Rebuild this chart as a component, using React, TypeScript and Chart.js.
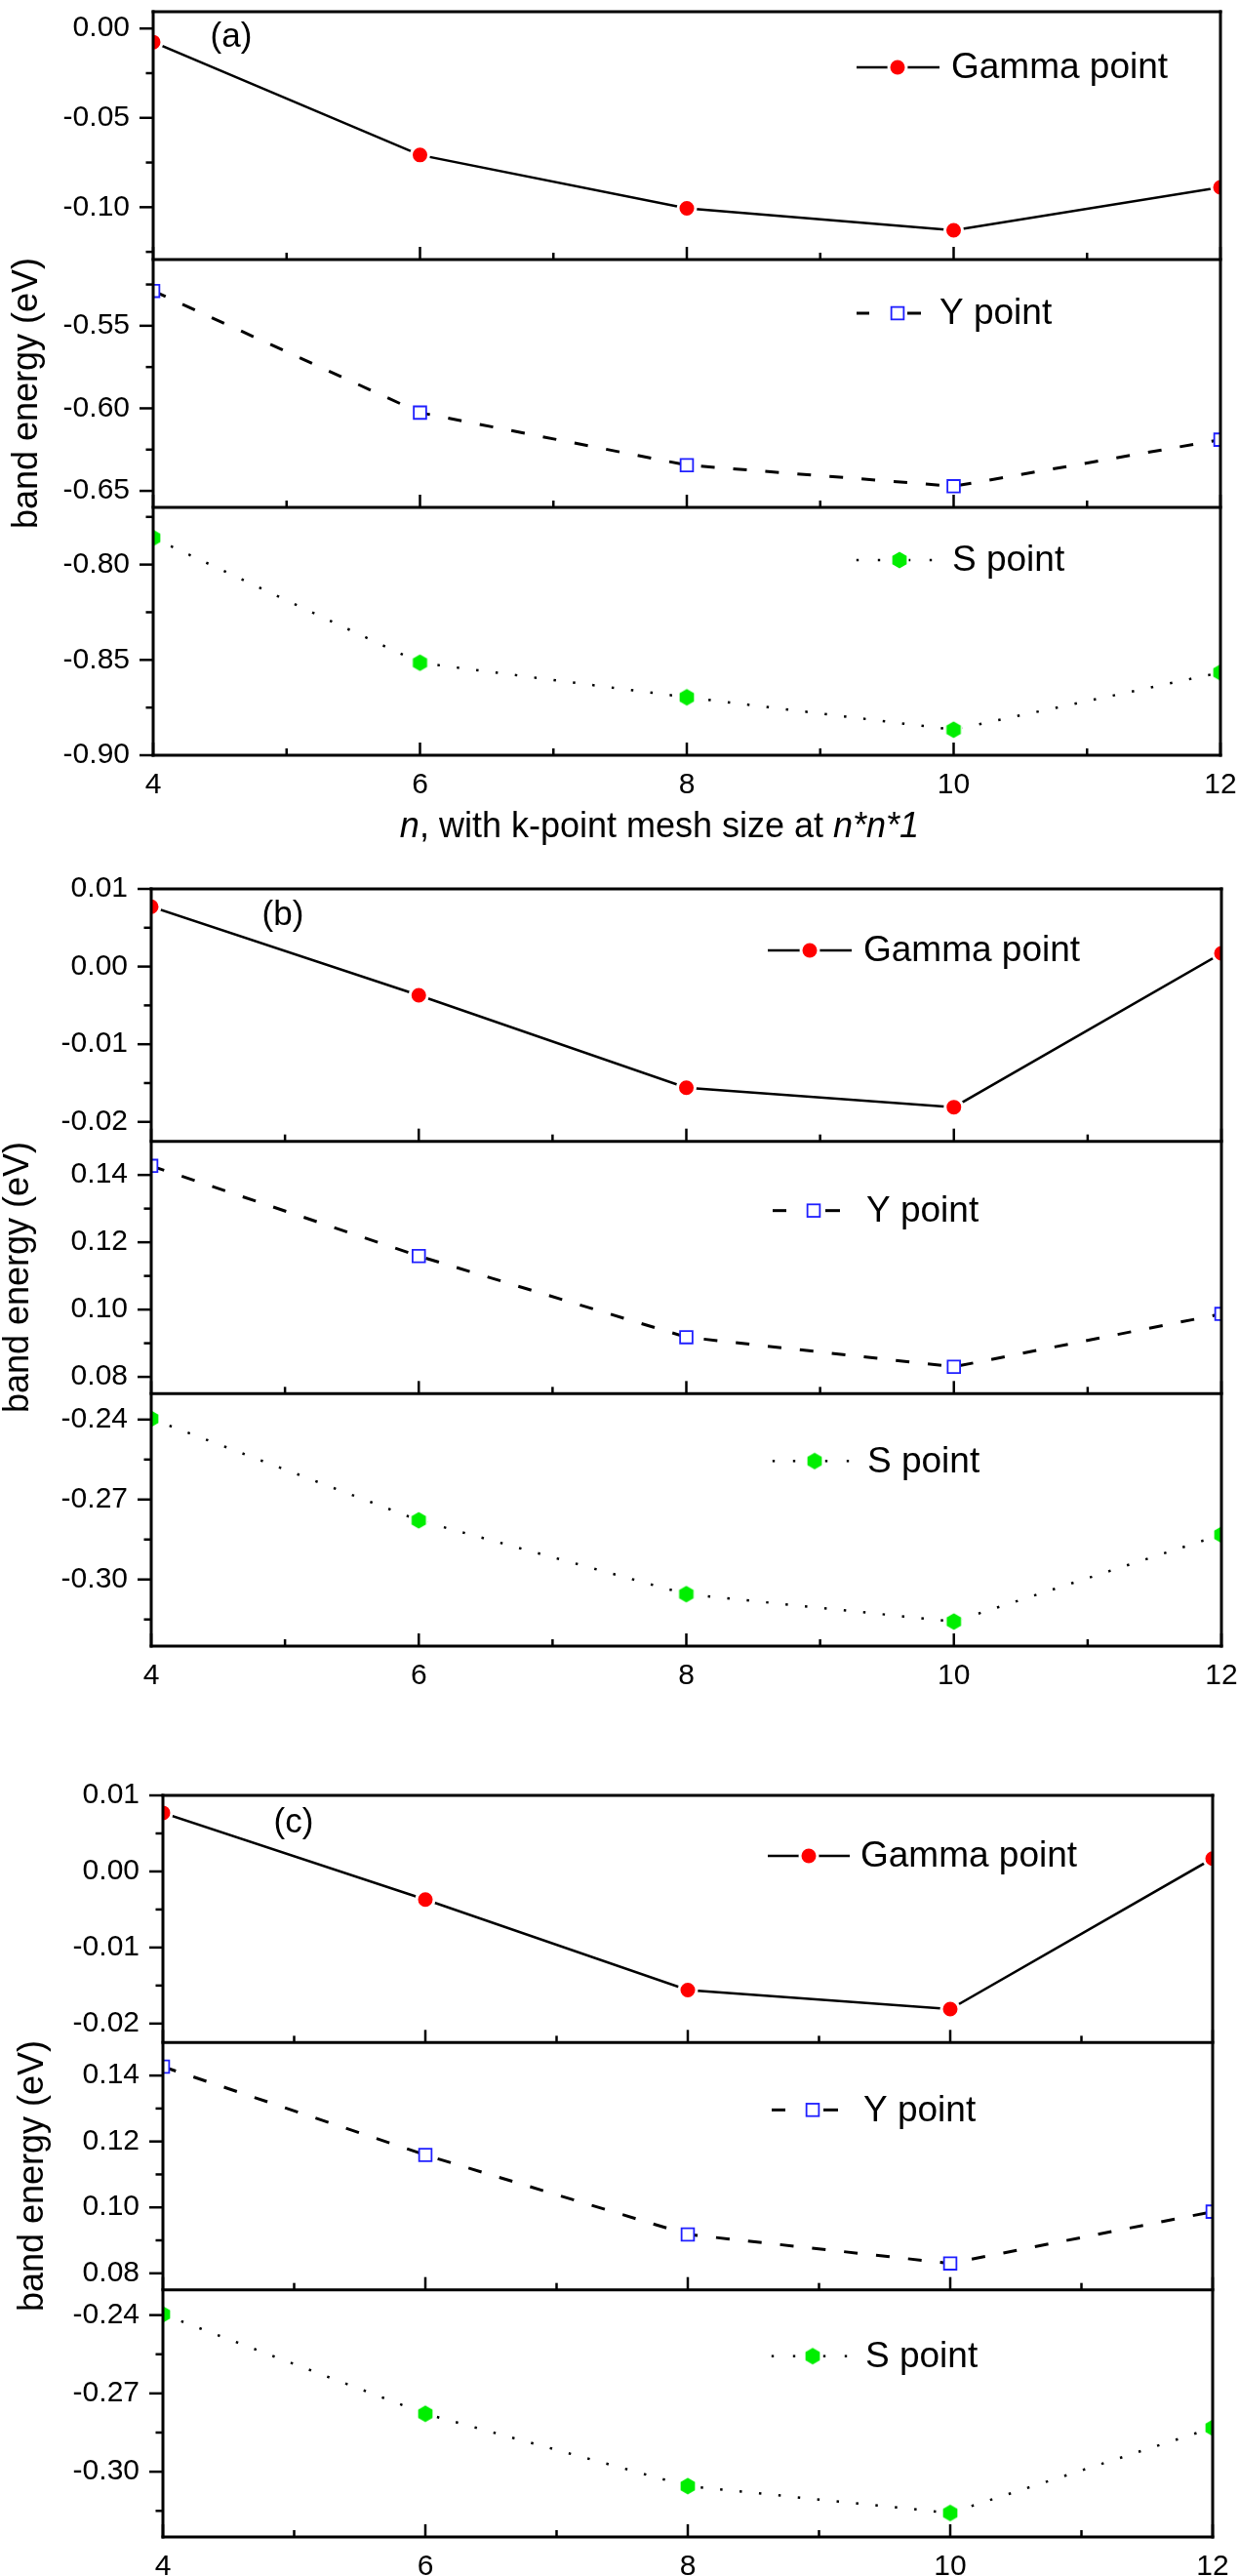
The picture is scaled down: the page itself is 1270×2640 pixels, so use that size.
import React, { useEffect, useRef } from 'react';
import { Chart, registerables } from 'chart.js';

Chart.register(...registerables);

const FONT = "'Liberation Sans', Arial, Helvetica, sans-serif";

// k-point mesh parameter n (mesh n*n*1)
const nValues = [4, 6, 8, 10, 12];
const xMajorTicks = [4, 6, 8, 10, 12];
const xMinorTicks = [5, 7, 9, 11];

// Panel (a): band energies in eV
const gammaA = [-0.0076, -0.0708, -0.1006, -0.1129, -0.0889];
const yPointA = [-0.5289, -0.6026, -0.6344, -0.6472, -0.619];
const sPointA = [-0.786, -0.8515, -0.8696, -0.8866, -0.8566];

// Panels (b) and (c): band energies in eV
const gammaB = [0.0077, -0.0037, -0.0156, -0.0181, 0.0017];
const yPointB = [0.1427, 0.1159, 0.0918, 0.083, 0.0987];
const sPointB = [-0.2397, -0.2778, -0.3055, -0.3158, -0.2832];

// Axis ranges and tick values, panel (a)
const gammaRangeA = [-0.1293, 0.0094];
const gammaMajorA = [0, -0.05, -0.1];
const gammaMinorA = [-0.025, -0.075, -0.125];
const yRangeA = [-0.66, -0.5099];
const yMajorA = [-0.55, -0.6, -0.65];
const yMinorA = [-0.525, -0.575, -0.625];
const sRangeA = [-0.9, -0.77];
const sMajorA = [-0.8, -0.85, -0.9];
const sMinorA = [-0.775, -0.825, -0.875];

// Axis ranges and tick values, panels (b) and (c)
const gammaRangeB = [-0.0225, 0.01];
const gammaMajorB = [0.01, 0, -0.01, -0.02];
const gammaMinorB = [0.005, -0.005, -0.015];
const yRangeB = [0.075, 0.15];
const yMajorB = [0.14, 0.12, 0.1, 0.08];
const yMinorB = [0.13, 0.11, 0.09];
const sRangeB = [-0.325, -0.2303];
const sMajorB = [-0.24, -0.27, -0.3];
const sMinorB = [-0.255, -0.285, -0.315];

const seriesLabels = { gamma: 'Gamma point', y: 'Y point', s: 'S point' };

type Kind = 'gamma' | 'y' | 's';

interface SubPlot {
  id: string;
  kind: Kind;
  values: number[];
  range: number[];
  major: number[];
  minor: number[];
}

interface LegendPos {
  segs: number[][];
  dots: number[];
  marker: number;
  text: number;
  dy: number;
}

interface PanelLayout {
  top: number;
  height: number;
  areaLeft: number;
  areaRight: number;
  areaTop: number;
  areaBottom: number;
  letter: string;
  letterX: number;
  letterY: number;
  yTitleOffset: number;
  xTitle: boolean;
  legends: LegendPos[];
}

const X_AXIS_H = 40;

const subsA: SubPlot[] = [
  { id: 'yG', kind: 'gamma', values: gammaA, range: gammaRangeA, major: gammaMajorA, minor: gammaMinorA },
  { id: 'yY', kind: 'y', values: yPointA, range: yRangeA, major: yMajorA, minor: yMinorA },
  { id: 'yS', kind: 's', values: sPointA, range: sRangeA, major: sMajorA, minor: sMinorA },
];

const subsB: SubPlot[] = [
  { id: 'yG', kind: 'gamma', values: gammaB, range: gammaRangeB, major: gammaMajorB, minor: gammaMinorB },
  { id: 'yY', kind: 'y', values: yPointB, range: yRangeB, major: yMajorB, minor: yMinorB },
  { id: 'yS', kind: 's', values: sPointB, range: sRangeB, major: sMajorB, minor: sMinorB },
];

const layoutA: PanelLayout = {
  top: 0, height: 870, areaLeft: 157, areaRight: 1251, areaTop: 2, areaBottom: 774,
  letter: '(a)', letterX: 80, letterY: 26, yTitleOffset: 129, xTitle: true,
  legends: [
    { segs: [[721, 806]], dots: [], marker: 763, text: 818, dy: 57 },
    { segs: [[721, 734], [773, 787]], dots: [], marker: 763, text: 806, dy: 55 },
    { segs: [], dots: [722, 744, 775, 797], marker: 765, text: 819, dy: 54 },
  ],
};

const layoutB: PanelLayout = {
  top: 870, height: 870, areaLeft: 155, areaRight: 1252, areaTop: 911, areaBottom: 1687,
  letter: '(b)', letterX: 135, letterY: 27, yTitleOffset: 136, xTitle: false,
  legends: [
    { segs: [[632, 718]], dots: [], marker: 675, text: 730, dy: 63 },
    { segs: [[637, 651], [691, 706]], dots: [], marker: 679, text: 733, dy: 71 },
    { segs: [], dots: [638, 659, 692, 714], marker: 680, text: 734, dy: 69 },
  ],
};

const layoutC: PanelLayout = {
  top: 1740, height: 900, areaLeft: 167, areaRight: 1243, areaTop: 1840, areaBottom: 2600,
  letter: '(c)', letterX: 134, letterY: 28, yTitleOffset: 133, xTitle: false,
  legends: [
    { segs: [[620, 704]], dots: [], marker: 662, text: 715, dy: 62 },
    { segs: [[624, 638], [677, 692]], dots: [], marker: 666, text: 718, dy: 69 },
    { segs: [], dots: [625, 647, 678, 700], marker: 666, text: 720, dy: 68 },
  ],
};

const RED = '#ff0000';
const BLUE = '#1f1fff';
const GREEN = '#00ee00';
const HEX_R = 8.5;

function makeHexagon(): HTMLCanvasElement {
  const size = 26;
  const c = document.createElement('canvas');
  c.width = size;
  c.height = size;
  const g = c.getContext('2d')!;
  const path = (r: number) => {
    g.beginPath();
    for (let i = 0; i < 6; i++) {
      const a = -Math.PI / 2 + (i * Math.PI) / 3;
      const px = size / 2 + r * Math.cos(a);
      const py = size / 2 + r * Math.sin(a);
      if (i === 0) g.moveTo(px, py);
      else g.lineTo(px, py);
    }
    g.closePath();
  };
  path(HEX_R + 2.5);
  g.fillStyle = '#ffffff';
  g.fill();
  path(HEX_R);
  g.fillStyle = GREEN;
  g.fill();
  return c;
}

function seriesStyle(kind: Kind, hex: HTMLCanvasElement) {
  if (kind === 'gamma') {
    return {
      borderDash: [], borderWidth: 2.5, pointStyle: 'circle', pointRadius: 9,
      pointBackgroundColor: RED, pointBorderColor: '#ffffff', pointBorderWidth: 3,
    };
  }
  if (kind === 'y') {
    return {
      borderDash: [14, 19], borderWidth: 3, pointStyle: 'rect', pointRadius: 9,
      pointBackgroundColor: '#ffffff', pointBorderColor: BLUE, pointBorderWidth: 1.8,
    };
  }
  return {
    borderDash: [2.5, 17.5], borderWidth: 2.5, pointStyle: hex, pointRadius: 9,
    pointBackgroundColor: GREEN, pointBorderColor: GREEN, pointBorderWidth: 0,
  };
}

function drawMarker(ctx: CanvasRenderingContext2D, kind: Kind, x: number, y: number, hex: HTMLCanvasElement) {
  if (kind === 'gamma') {
    ctx.beginPath();
    ctx.arc(x, y, 10.5, 0, Math.PI * 2);
    ctx.fillStyle = '#ffffff';
    ctx.fill();
    ctx.beginPath();
    ctx.arc(x, y, 7.5, 0, Math.PI * 2);
    ctx.fillStyle = RED;
    ctx.fill();
  } else if (kind === 'y') {
    const h = 9 * Math.SQRT1_2;
    ctx.fillStyle = '#ffffff';
    ctx.fillRect(x - h, y - h, 2 * h, 2 * h);
    ctx.setLineDash([]);
    ctx.lineWidth = 1.8;
    ctx.strokeStyle = BLUE;
    ctx.strokeRect(x - h, y - h, 2 * h, 2 * h);
  } else {
    ctx.drawImage(hex, x - hex.width / 2, y - hex.height / 2);
  }
}

function line(ctx: CanvasRenderingContext2D, x1: number, y1: number, x2: number, y2: number) {
  ctx.beginPath();
  ctx.moveTo(x1, y1);
  ctx.lineTo(x2, y2);
  ctx.stroke();
}

function makeDecorPlugin(layout: PanelLayout, subs: SubPlot[], hex: HTMLCanvasElement) {
  return {
    id: 'panelDecor',
    afterDraw(chart: any) {
      const ctx: CanvasRenderingContext2D = chart.ctx;
      const area = chart.chartArea;
      const xs = chart.scales.x;
      ctx.save();
      ctx.strokeStyle = '#000';
      ctx.setLineDash([]);

      // tick marks: y outward, x inward at the bottom of each sub-plot
      ctx.lineWidth = 2.5;
      ctx.lineCap = 'butt';
      subs.forEach((sub) => {
        const ys = chart.scales[sub.id];
        sub.major.forEach((v) => {
          const py = ys.getPixelForValue(v);
          line(ctx, area.left - 14, py, area.left, py);
        });
        sub.minor.forEach((v) => {
          const py = ys.getPixelForValue(v);
          line(ctx, area.left - 7.5, py, area.left, py);
        });
        xMajorTicks.forEach((v) => {
          const px = xs.getPixelForValue(v);
          line(ctx, px, ys.bottom, px, ys.bottom - 13);
        });
        xMinorTicks.forEach((v) => {
          const px = xs.getPixelForValue(v);
          line(ctx, px, ys.bottom, px, ys.bottom - 7);
        });
      });

      // frame and sub-plot separators
      ctx.lineWidth = 3;
      ctx.lineCap = 'square';
      line(ctx, area.left, area.top, area.right, area.top);
      line(ctx, area.left, area.top, area.left, area.bottom);
      line(ctx, area.right, area.top, area.right, area.bottom);
      subs.forEach((sub) => {
        const ys = chart.scales[sub.id];
        line(ctx, area.left, ys.bottom, area.right, ys.bottom);
      });

      // in-plot legends
      subs.forEach((sub, i) => {
        const ys = chart.scales[sub.id];
        const leg = layout.legends[i];
        const mid = ys.top + leg.dy;
        const ds = chart.data.datasets[i];
        ctx.strokeStyle = '#000';
        ctx.lineCap = 'butt';
        ctx.setLineDash([]);
        ctx.lineWidth = ds.borderWidth;
        leg.segs.forEach(([a, b]) => line(ctx, area.left + a, mid, area.left + b, mid));
        ctx.lineWidth = 2.5;
        leg.dots.forEach((d) => line(ctx, area.left + d - 1.2, mid, area.left + d + 1.2, mid));
        drawMarker(ctx, sub.kind, area.left + leg.marker, mid, hex);
        ctx.fillStyle = '#000';
        ctx.font = `37px ${FONT}`;
        ctx.textAlign = 'left';
        ctx.textBaseline = 'middle';
        ctx.fillText(ds.label, area.left + leg.text, mid + 1);
      });

      // panel letter
      ctx.fillStyle = '#000';
      ctx.font = `35px ${FONT}`;
      ctx.textAlign = 'center';
      ctx.textBaseline = 'middle';
      ctx.fillText(layout.letter, area.left + layout.letterX, area.top + layout.letterY);

      // y-axis title
      ctx.save();
      ctx.translate(area.left - layout.yTitleOffset, (area.top + area.bottom) / 2 + 10);
      ctx.rotate(-Math.PI / 2);
      ctx.font = `36px ${FONT}`;
      ctx.textAlign = 'center';
      ctx.textBaseline = 'middle';
      ctx.fillText('band energy (eV)', 0, 0);
      ctx.restore();

      // x-axis title with italic symbols
      if (layout.xTitle) {
        const parts = [
          { t: 'n', italic: true },
          { t: ', with k-point mesh size at ', italic: false },
          { t: 'n*n*1', italic: true },
        ];
        const fontOf = (it: boolean) => `${it ? 'italic ' : ''}36px ${FONT}`;
        let total = 0;
        parts.forEach((p) => {
          ctx.font = fontOf(p.italic);
          total += ctx.measureText(p.t).width;
        });
        let x = area.left + 519 - total / 2;
        const y = area.bottom + 74;
        ctx.textAlign = 'left';
        ctx.textBaseline = 'middle';
        parts.forEach((p) => {
          ctx.font = fontOf(p.italic);
          ctx.fillText(p.t, x, y);
          x += ctx.measureText(p.t).width;
        });
      }
      ctx.restore();
    },
  };
}

function Panel({ layout, subs }: { layout: PanelLayout; subs: SubPlot[] }) {
  const ref = useRef<HTMLCanvasElement>(null);

  useEffect(() => {
    const canvas = ref.current;
    if (!canvas) return;
    const hex = makeHexagon();
    const W = 1270;
    const padTop = layout.areaTop - layout.top;
    const padBottom = layout.height - (layout.areaBottom - layout.top) - X_AXIS_H;
    const padRight = W - layout.areaRight;

    const tickFont = { family: FONT, size: 30 };
    const scales: any = {
      x: {
        type: 'linear',
        position: 'bottom',
        min: 4,
        max: 12,
        grid: { display: false, drawTicks: false },
        border: { display: false },
        ticks: {
          font: tickFont,
          color: '#000',
          padding: 13,
          autoSkip: false,
          maxRotation: 0,
          minRotation: 0,
          callback: (v: number) => (xMajorTicks.includes(v) ? String(v) : ''),
        },
        afterBuildTicks: (s: any) => {
          s.ticks = [...xMajorTicks, ...xMinorTicks].sort((a, b) => a - b).map((v) => ({ value: v }));
        },
        afterFit: (s: any) => {
          s.height = X_AXIS_H;
          s.paddingLeft = 0;
          s.paddingRight = 0;
        },
      },
    };
    // stacked y axes share the left side; the last one defined sits on top
    [...subs].reverse().forEach((sub) => {
      scales[sub.id] = {
        type: 'linear',
        position: 'left',
        stack: 'panel',
        stackWeight: 1,
        min: sub.range[0],
        max: sub.range[1],
        grid: { display: false, drawTicks: false },
        border: { display: false },
        ticks: {
          font: tickFont,
          color: '#000',
          padding: 24,
          autoSkip: false,
          callback: (v: number) => (sub.major.includes(v) ? v.toFixed(2) : ''),
        },
        afterBuildTicks: (s: any) => {
          s.ticks = [...sub.major, ...sub.minor].sort((a, b) => a - b).map((v) => ({ value: v }));
        },
        afterFit: (s: any) => {
          s.width = layout.areaLeft;
          s.paddingTop = 0;
          s.paddingBottom = 0;
        },
      };
    });

    const datasets = subs.map((sub) => ({
      label: seriesLabels[sub.kind],
      data: nValues.map((n, i) => ({ x: n, y: sub.values[i] })),
      xAxisID: 'x',
      yAxisID: sub.id,
      borderColor: '#000',
      fill: false,
      tension: 0,
      clip: 0,
      ...seriesStyle(sub.kind, hex),
    }));

    const chart = new Chart(canvas, {
      type: 'line',
      data: { datasets } as any,
      options: {
        animation: false,
        responsive: false,
        devicePixelRatio: 1,
        events: [],
        layout: { padding: { top: padTop, left: 0, right: padRight, bottom: padBottom } },
        scales,
        plugins: { legend: { display: false }, tooltip: { enabled: false }, title: { display: false } },
      } as any,
      plugins: [makeDecorPlugin(layout, subs, hex)],
    });
    return () => chart.destroy();
  }, [layout, subs]);

  return (
    <canvas
      ref={ref}
      width={1270}
      height={layout.height}
      style={{ position: 'absolute', left: 0, top: layout.top, width: 1270, height: layout.height, display: 'block' }}
    />
  );
}

export default function App() {
  return (
    <div style={{ position: 'absolute', left: 0, top: 0, width: 1270, height: 2640, background: '#ffffff', overflow: 'hidden' }}>
      <Panel layout={layoutA} subs={subsA} />
      <Panel layout={layoutB} subs={subsB} />
      <Panel layout={layoutC} subs={subsB} />
    </div>
  );
}
